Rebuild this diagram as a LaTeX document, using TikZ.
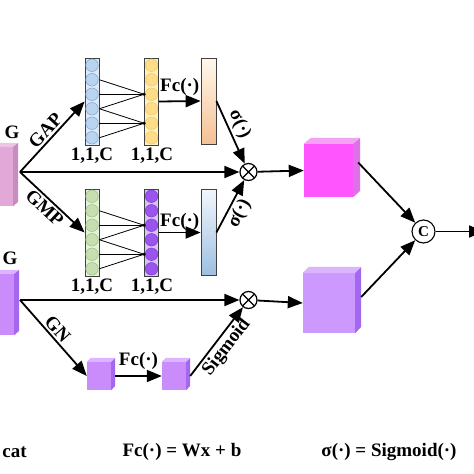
\documentclass[tikz,border=0pt]{standalone}
\usepackage{fontspec}
\setmainfont{Liberation Serif}
\usetikzlibrary{arrows.meta}
\definecolor{blueBg}{HTML}{DCE8F5}
\definecolor{blueDot}{HTML}{B8D4EE}
\definecolor{blueDotB}{HTML}{7FA6D0}
\definecolor{yelBg}{HTML}{FFF0C0}
\definecolor{yelDot}{HTML}{FFDD88}
\definecolor{yelDotB}{HTML}{F0C860}
\definecolor{grnBg}{HTML}{E4F0D8}
\definecolor{grnDot}{HTML}{C6DFB0}
\definecolor{grnDotB}{HTML}{9CC084}
\definecolor{purBg}{HTML}{D8C0F8}
\definecolor{purDot}{HTML}{9955EE}
\definecolor{purDotB}{HTML}{7A3FD0}
\definecolor{orTop}{HTML}{FFF8EC}
\definecolor{orBot}{HTML}{F5C094}
\definecolor{lbTop}{HTML}{F2F6FB}
\definecolor{lbBot}{HTML}{9DBFE2}
\definecolor{pinkF}{HTML}{E2A8D8}
\definecolor{pinkT}{HTML}{EEC4E6}
\definecolor{pinkS}{HTML}{C98CC0}
\definecolor{vioF}{HTML}{C98CFA}
\definecolor{vioT}{HTML}{DDB4FF}
\definecolor{vioS}{HTML}{A468EE}
\definecolor{magF}{HTML}{FF55FF}
\definecolor{magT}{HTML}{F5A2F5}
\definecolor{magS}{HTML}{E070E8}
\definecolor{lvF}{HTML}{CC99FF}
\definecolor{lvT}{HTML}{DBB6FF}
\definecolor{lvS}{HTML}{A468F0}
\begin{document}
\begin{tikzpicture}[x=1pt,y=-1pt,
  font=\bfseries\fontsize{19}{21}\selectfont,
  arr/.style={line width=1.8pt, -{Triangle[length=15pt,width=12pt]}},
  ln/.style={line width=0.8pt},
  col/.style={draw=black!75, line width=0.8pt, minimum width=14pt, minimum height=87pt, inner sep=0pt},
  dotc/.style={circle, inner sep=0pt, minimum size=12.5pt, line width=0.5pt},
  bar/.style={draw=black!75, line width=0.8pt, minimum width=15pt, minimum height=86pt, inner sep=0pt},
  face/.style={inner sep=0pt, draw=none},
  mult/.style={circle, draw, line width=1.2pt, minimum size=17pt, inner sep=0pt, fill=white,
    path picture={\draw[line width=1.2pt]
      ([shift={(-6pt,-6pt)}]path picture bounding box.center) -- ([shift={(6pt,6pt)}]path picture bounding box.center)
      ([shift={(-6pt,6pt)}]path picture bounding box.center) -- ([shift={(6pt,-6pt)}]path picture bounding box.center);}},
  lab/.style={inner sep=2pt},
]
\useasboundingbox (0,0) rectangle (474,474);

% ---------- input blocks ----------
\node[face, fill=pinkF, minimum width=25pt, minimum height=59pt] (in1) at (0.5,176.5) {};
\fill[pinkT] (in1.north west) -- ++(5,-4) -- ++(25,0) -- (in1.north east) -- cycle;
\fill[pinkS] (in1.north east) -- ++(5,-4) -- ++(0,59) -- (in1.south east) -- cycle;
\node[lab] (G1) at (12,132) {G};

\node[face, fill=vioF, minimum width=26pt, minimum height=61pt] (in2) at (1,304.5) {};
\fill[vioT] (in2.north west) -- ++(5,-4) -- ++(26,0) -- (in2.north east) -- cycle;
\fill[vioS] (in2.north east) -- ++(5,-4) -- ++(0,61) -- (in2.south east) -- cycle;
\node[lab] (G2) at (10,258) {G};

\coordinate (o1) at (20,172);
\coordinate (o2) at (20,300);

% ---------- columns ----------
\node[col, fill=blueBg] (b1) at (92,101.5) {};
\foreach \k in {1,...,6} \node[dotc, fill=blueDot, draw=blueDotB] (b1c\k) at (92,50.75+14.5*\k) {};
\node[col, fill=yelBg] (y1) at (151.5,101.5) {};
\foreach \k in {1,...,6} \node[dotc, fill=yelDot, draw=yelDotB] (y1c\k) at (151.5,50.75+14.5*\k) {};
\foreach \a/\b in {2/3,3/3,4/3,4/5,5/5,6/5} \draw[ln] (b1c\a.center -| b1.east) -- (y1c\b.center -| y1.west);
\fill (y1c3.center -| y1.west) circle (1.7pt);
\fill (y1c5.center -| y1.west) circle (1.7pt);
\node[lab] (l1) at (92,156) {1,1,C};
\node[lab] (l2) at (152,156) {1,1,C};

\node[col, fill=grnBg] (g1) at (92,232.5) {};
\foreach \k in {1,...,6} \node[dotc, fill=grnDot, draw=grnDotB] (g1c\k) at (92,181.75+14.5*\k) {};
\node[col, fill=purBg] (p1) at (151.5,232.5) {};
\foreach \k in {1,...,6} \node[dotc, fill=purDot, draw=purDotB] (p1c\k) at (151.5,181.75+14.5*\k) {};
\foreach \a/\b in {2/3,3/3,4/3,4/5,5/5,6/5} \draw[ln] (g1c\a.center -| g1.east) -- (p1c\b.center -| p1.west);
\fill (p1c3.center -| p1.west) circle (1.7pt);
\fill (p1c5.center -| p1.west) circle (1.7pt);
\node[lab] (l3) at (92,287) {1,1,C};
\node[lab] (l4) at (152,287) {1,1,C};

% ---------- bars ----------
\node[bar, top color=orTop, bottom color=orBot] (ob) at (208.5,101) {};
\node[bar, top color=lbTop, bottom color=lbBot] (lb) at (208.5,232.5) {};

% ---------- small blocks ----------
\node[face, fill=vioF, minimum width=24pt, minimum height=28pt] (s1) at (99,376) {};
\fill[vioT] (s1.north west) -- ++(4,-4) -- ++(24,0) -- (s1.north east) -- cycle;
\fill[vioS] (s1.north east) -- ++(4,-4) -- ++(0,28) -- (s1.south east) -- cycle;
\node[face, fill=vioF, minimum width=24pt, minimum height=28pt] (s2) at (174,376) {};
\fill[vioT] (s2.north west) -- ++(4,-4) -- ++(24,0) -- (s2.north east) -- cycle;
\fill[vioS] (s2.north east) -- ++(4,-4) -- ++(0,28) -- (s2.south east) -- cycle;

% ---------- cubes ----------
\node[face, fill=magF, minimum width=49pt, minimum height=53pt] (cube1) at (328.5,170.5) {};
\fill[magT] (cube1.north west) -- ++(7,-6) -- ++(49,0) -- (cube1.north east) -- cycle;
\fill[magS] (cube1.north east) -- ++(7,-6) -- ++(0,53) -- (cube1.south east) -- cycle;
\node[face, fill=lvF, minimum width=52pt, minimum height=60pt] (cube2) at (329,303) {};
\fill[lvT] (cube2.north west) -- ++(6,-6) -- ++(52,0) -- (cube2.north east) -- cycle;
\fill[lvS] (cube2.north east) -- ++(6,-6) -- ++(0,60) -- (cube2.south east) -- cycle;

% ---------- operators ----------
\node[mult] (x1) at (248.5,172) {};
\node[mult] (x2) at (248.5,300) {};
\node[circle, draw, line width=1.1pt, minimum size=23pt, inner sep=0pt,
      font=\bfseries\fontsize{15}{15}\selectfont] (cc) at (423.5,231.5) {C};
\coordinate (out) at (484,231.5);

% ---------- connectors ----------
\draw[arr] (o1) -- node[lab, sloped, above, pos=0.5] {GAP} (b1.west);
\draw[arr] (o1) -- node[lab, sloped, below, pos=0.48] {GMP} (g1.west);
\draw[arr] (o1) -- (x1);
\draw[arr] (y1.east) -- node[lab, above=3pt] {Fc(·)} (ob.west);
\draw[arr] (ob.east) -- node[lab, sloped, above, pos=0.45] {σ(·)} (x1);
\draw[arr] (p1.east) -- node[lab, above=-1pt] {Fc(·)} (lb.west);
\draw[arr] (lb.east) -- node[lab, sloped, below, pos=0.47] {σ(·)} (x1);
\draw[arr] (x1) -- (cube1.west);

\draw[arr] (o2) -- (x2);
\draw[arr] (o2) -- node[lab, sloped, above, pos=0.46] {GN} (s1.west);
\draw[arr] ([xshift=4pt]s1.east) -- node[lab, above=4pt] {Fc(·)} (s2.west);
\draw[arr] ([xshift=4pt]s2.east) -- node[lab, sloped, below, pos=0.52] {Sigmoid} (x2);
\draw[arr] (x2) -- (cube2.west);

\draw[arr] ([shift={(5pt,8pt)}]cube1.east) -- (cc);
\draw[arr] ([shift={(6pt,6pt)}]cube2.east) -- (cc);
\draw[arr] (cc) -- (out);

% ---------- legend ----------
\node[lab] (t1) at (14.5,452) {cat};
\node[lab] (t2) at (182,452) {Fc(·) = Wx + b};
\node[lab] (t3) at (389,452) {σ(·) = Sigmoid(·)};
\end{tikzpicture}
\end{document}
